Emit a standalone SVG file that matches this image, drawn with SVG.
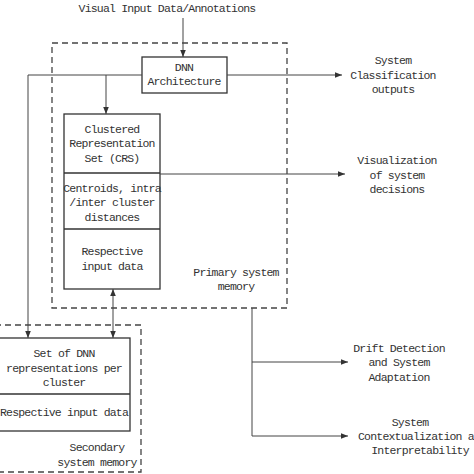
<svg xmlns="http://www.w3.org/2000/svg" width="474" height="474" viewBox="0 0 474 474">
<defs>
<marker id="ah" viewBox="0 0 10 10" refX="10" refY="5" markerWidth="7" markerHeight="7" markerUnits="userSpaceOnUse" orient="auto-start-reverse"><path d="M0,1 L10,5 L0,9 z" fill="#333"/></marker>
<style>
text{font-family:"Liberation Mono","DejaVu Sans Mono",monospace;font-size:11.5px;letter-spacing:-0.8px;fill:#333;text-anchor:middle}
.box{fill:none;stroke:#333;stroke-width:1.3}
.dash{fill:none;stroke:#444;stroke-width:1.3;stroke-dasharray:6,4}
.ln{fill:none;stroke:#444;stroke-width:1}
</style>
</defs>
<rect width="474" height="474" fill="#fff"/>
<text x="167" y="12">Visual Input Data/Annotations</text>
<g id="primary-memory">
<rect class="dash" x="52" y="43" width="235" height="265"/>
<text x="236" y="276">Primary system</text>
<text x="236" y="290">memory</text>
</g>
<g id="dnn">
<rect class="box" x="142" y="57" width="85" height="36"/>
<text x="184" y="71">DNN</text>
<text x="184" y="85">Architecture</text>
</g>
<g id="crs">
<rect class="box" x="64" y="114" width="96" height="175"/>
<line class="box" x1="64" y1="173" x2="160" y2="173"/>
<line class="box" x1="64" y1="229" x2="160" y2="229"/>
<text x="112" y="133">Clustered</text>
<text x="112" y="147">Representation</text>
<text x="112" y="162">Set (CRS)</text>
<text x="112" y="192">Centroids, intra</text>
<text x="112" y="206">/inter cluster</text>
<text x="112" y="221">distances</text>
<text x="112" y="255">Respective</text>
<text x="112" y="270">input data</text>
</g>
<g id="secondary-memory">
<rect class="dash" x="-5" y="325" width="146" height="147"/>
<rect class="box" x="-2" y="338" width="132" height="93"/>
<line class="box" x1="-2" y1="394" x2="130" y2="394"/>
<text x="64" y="357">Set of DNN</text>
<text x="64" y="372">representations per</text>
<text x="64" y="386">cluster</text>
<text x="64" y="416">Respective input data</text>
<text x="97" y="451">Secondary</text>
<text x="97" y="466">system memory</text>
</g>
<g id="out-classification">
<text x="393" y="64">System</text>
<text x="393" y="79">Classification</text>
<text x="393" y="93">outputs</text>
</g>
<g id="out-visualization">
<text x="397" y="164">Visualization</text>
<text x="397" y="179">of system</text>
<text x="397" y="193">decisions</text>
</g>
<g id="out-drift">
<text x="399" y="352">Drift Detection</text>
<text x="399" y="366">and System</text>
<text x="399" y="381">Adaptation</text>
</g>
<g id="out-context">
<text x="410" y="426">System</text>
<text x="358" y="440" style="text-anchor:start">Contextualization a</text>
<text x="420" y="454">Interpretability</text>
</g>
<g id="connectors">
<line class="ln" x1="183" y1="18" x2="183" y2="57" marker-end="url(#ah)"/>
<line class="ln" x1="227" y1="75" x2="342" y2="75" marker-end="url(#ah)"/>
<polyline class="ln" points="142,75 28,75 28,338" marker-end="url(#ah)"/>
<line class="ln" x1="106" y1="75" x2="106" y2="114" marker-end="url(#ah)"/>
<line class="ln" x1="160" y1="174" x2="345" y2="174" marker-end="url(#ah)"/>
<line class="ln" x1="113" y1="289" x2="113" y2="338" marker-start="url(#ah)" marker-end="url(#ah)"/>
<polyline class="ln" points="252,308 252,436 348,436" marker-end="url(#ah)"/>
<line class="ln" x1="252" y1="362" x2="348" y2="362" marker-end="url(#ah)"/>
</g>
</svg>
